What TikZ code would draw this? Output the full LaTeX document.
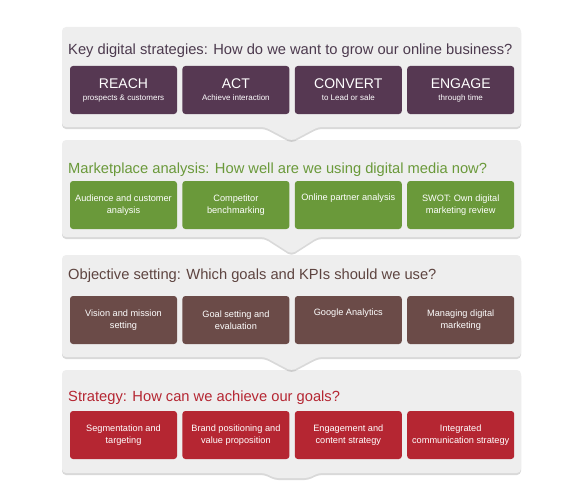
\documentclass[tikz,border=0pt]{standalone}
\usepackage{fontspec}
\setmainfont{Liberation Sans}
\usetikzlibrary{positioning,shadows}

\definecolor{panelgray}{HTML}{EEEEEE}
\definecolor{keypurple}{HTML}{563852}
\definecolor{keytitle}{HTML}{4C3A4E}
\definecolor{marketgreen}{HTML}{6A993A}
\definecolor{goalbrown}{HTML}{6B4B48}
\definecolor{goaltitle}{HTML}{5E4440}
\definecolor{stratred}{HTML}{B52632}

\begin{document}
\begin{tikzpicture}[x=1pt, y=-1pt,
            node distance=5pt,
            panel/.style = {fill=panelgray, rounded corners=4pt,
                drop shadow={shadow xshift=0pt, shadow yshift=-2pt, opacity=0.3}},
            heading/.style = {anchor=base west, inner sep=0pt,
                font=\fontsize{14.7}{17}\selectfont},
            cell/.style = {rounded corners=3pt, text=white, align=center,
                minimum width=107pt, minimum height=48pt, inner sep=1pt,
                font=\fontsize{9.2}{12}\selectfont}]
\useasboundingbox (0,0) rectangle (585,500);

% panels, bottom one first so every pointer lies on the panel below
\path[panel] (62,370) -- (521,370) -- (521,473) -- (318,473) -- (308.5,478)
    -- (274.5,478) -- (265,473) -- (62,473) -- cycle;
\path[panel] (62,255) -- (521,255) -- (521,357) -- (318,357) -- (291.5,371)
    -- (265,357) -- (62,357) -- cycle;
\path[panel] (62,140) -- (521,140) -- (521,237) -- (318,237) -- (291.5,254)
    -- (265,237) -- (62,237) -- cycle;
\path[panel] (62,27) -- (521,27) -- (521,127) -- (318,127) -- (291.5,141)
    -- (265,127) -- (62,127) -- cycle;

% key digital strategies
\node[heading, text=keytitle] (keyhead) at (68,55)
    {Key digital strategies: How do we want to grow our online business?};
\node[cell, fill=keypurple] (reach) at (123.5,90)
    {{\fontsize{14}{15}\selectfont REACH}\\{\fontsize{8}{10}\selectfont prospects \& customers}};
\node[cell, fill=keypurple, right=5pt of reach] (act)
    {{\fontsize{14}{15}\selectfont ACT}\\{\fontsize{8}{10}\selectfont Achieve interaction}};
\node[cell, fill=keypurple, right=5pt of act] (convert)
    {{\fontsize{14}{15}\selectfont CONVERT}\\{\fontsize{8}{10}\selectfont to Lead or sale}};
\node[cell, fill=keypurple, right=5pt of convert] (engage)
    {{\fontsize{14}{15}\selectfont ENGAGE}\\{\fontsize{8}{10}\selectfont through time}};

% marketplace analysis
\node[heading, text=marketgreen] (markethead) at (68,173)
    {Marketplace analysis: How well are we using digital media now?};
\node[cell, fill=marketgreen] (audience) at (123.5,205)
    {Audience and customer\\analysis};
\node[cell, fill=marketgreen, right=5pt of audience] (competitor)
    {Competitor\\benchmarking};
\node[cell, fill=marketgreen, right=5pt of competitor] (partner)
    {Online partner analysis\\\strut};
\node[cell, fill=marketgreen, right=5pt of partner] (swot)
    {SWOT: Own digital\\marketing review};

% objective setting
\node[heading, text=goaltitle] (goalhead) at (68,279)
    {Objective setting: Which goals and KPIs should we use?};
\node[cell, fill=goalbrown] (vision) at (123.5,320)
    {Vision and mission\\setting};
\node[cell, fill=goalbrown, right=5pt of vision] (goalset)
    {Goal setting and\\evaluation};
\node[cell, fill=goalbrown, right=5pt of goalset] (analytics)
    {Google Analytics\\\strut};
\node[cell, fill=goalbrown, right=5pt of analytics] (managing)
    {Managing digital\\marketing};

% strategy
\node[heading, text=stratred] (strathead) at (68,401)
    {Strategy: How can we achieve our goals?};
\node[cell, fill=stratred] (segment) at (123.5,435)
    {Segmentation and\\targeting};
\node[cell, fill=stratred, right=5pt of segment] (brand)
    {Brand positioning and\\value proposition};
\node[cell, fill=stratred, right=5pt of brand] (content)
    {Engagement and\\content strategy};
\node[cell, fill=stratred, right=5pt of content] (comms)
    {Integrated\\communication strategy};

\end{tikzpicture}
\end{document}
